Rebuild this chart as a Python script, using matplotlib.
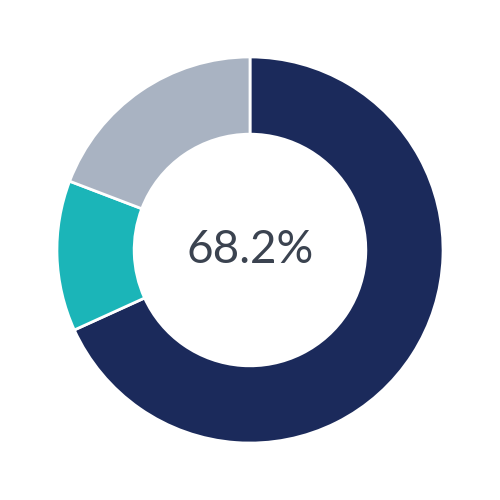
import matplotlib
matplotlib.use("Agg")
import matplotlib.pyplot as plt

labels = ["Navy", "Teal", "Gray"]
values = [68.2, 12.6, 19.2]
colors = ["#1b2a5b", "#1bb5b8", "#a9b3c2"]
center_label = "68.2%"

fig = plt.figure(figsize=(5, 5), dpi=100)
ax = fig.add_axes([0, 0, 1, 1])
ax.pie(values, colors=colors, startangle=90, counterclock=False,
       radius=1.0, wedgeprops=dict(width=0.40, edgecolor="white", linewidth=2))
ax.set_xlim(-1.295, 1.295)
ax.set_ylim(-1.295, 1.295)
ax.set_aspect("equal")
ax.axis("off")
ax.text(0, 0.0, center_label, ha="center", va="center", fontsize=33,
        family=["Lato", "DejaVu Sans"], color="#3b4350")
fig.savefig("out.png", dpi=100, facecolor="white")
